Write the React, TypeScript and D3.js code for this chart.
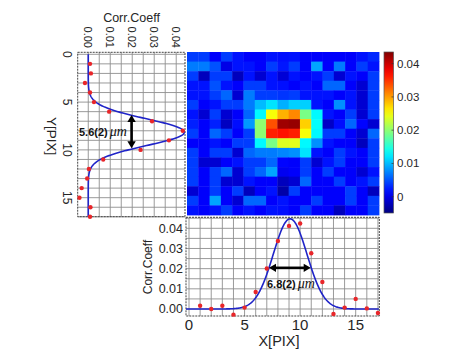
import React from 'react';
import * as d3 from 'd3';

const W = 474;
const H = 355;

// ---- bottom profile (X direction) ----
const xPixels = [1, 2, 3, 4, 5, 6, 7, 8, 9, 10, 11, 12, 13, 14, 15, 16, 17];
const xCorr = [0.0016, 0.0, 0.0016, -0.0028, 0.0007, 0.0084, 0.0201, 0.0337, 0.0412, 0.0424, 0.0276, 0.0134, -0.0025, 0.0007, 0.005, 0.0003, -0.002];
const xFitAmp = 0.0447;
const xFitCenter = 9.1;
const xFitSigma = 1.52;

// ---- left profile (Y direction) ----
const yPixels = [1, 2, 3, 4, 5, 6, 7, 8, 9, 10, 11, 12, 13, 14, 15, 16, 17];
const yCorr = [0.0008, 0.0012, -0.0015, 0.0008, 0.0026, 0.0095, 0.029, 0.043, 0.0367, 0.0238, 0.0068, 0.0003, -0.0005, -0.003, -0.004, 0.001, 0.0008];
const yFitAmp = 0.0437;
const yFitCenter = 8.15;
const yFitSigma = 1.4;

// ---- annotations ----
const xWidthLabel = '6.8(2)';
const yWidthLabel = '5.6(2)';
const xArrowLevel = 0.0204;
const xArrowFrom = 7.2;
const xArrowTo = 10.95;
const yArrowLevel = 0.0197;
const yArrowFrom = 6.35;
const yArrowTo = 9.83;

// ---- ticks ----
const pixTicks = [0, 5, 10, 15];
const corrTicks = [0, 0.01, 0.02, 0.03, 0.04];
const colorbarTicks = [0.04, 0.03, 0.02, 0.01, 0];

// ---- heatmap (17 x 17), rows top -> bottom ----
const heat: number[][] = [
  [0.004, 0.004, 0.001, 0.004, 0.002, 0.001, 0.001, 0.002, 0.0018, 0.002, 0.001, 0.001, 0.001, 0.001, 0.001, 0.002, 0.003],
  [0.007, 0.007, 0.005, 0.0, 0.002, 0.002, 0.001, 0.004, 0.0022, 0.004, 0.001, 0.009, 0.001, 0.007, 0.001, 0.004, 0.002],
  [0.004, -0.002, 0.004, 0.004, -0.002, 0.002, -0.001, 0.002, -0.0008, 0.002, 0.001, 0.002, 0.004, -0.001, 0.002, 0.001, 0.004],
  [0.002, 0.002, 0.005, 0.002, 0.001, 0.004, 0.004, 0.002, 0.0018, 0.001, 0.002, 0.001, 0.006, 0.006, 0.001, -0.001, 0.004],
  [0.002, 0.002, 0.004, 0.006, -0.001, 0.007, 0.004, 0.004, 0.0036, 0.004, 0.002, 0.002, 0.002, 0.001, 0.002, -0.001, 0.004],
  [0.004, 0.001, 0.002, 0.004, 0.004, 0.007, 0.01, 0.012, 0.0095, 0.011, 0.011, 0.002, 0.001, 0.008, 0.002, -0.001, 0.004],
  [0.002, -0.001, 0.004, -0.001, 0.001, 0.006, 0.013, 0.025, 0.029, 0.031, 0.019, 0.013, 0.002, 0.001, 0.004, -0.001, 0.004],
  [0.0026, 0.001, 0.0026, -0.0018, 0.0017, 0.0084, 0.0201, 0.0337, 0.042, 0.0424, 0.0276, 0.0134, -0.0015, 0.0017, 0.006, 0.0013, -0.001],
  [0.004, 0.001, 0.006, 0.004, 0.001, 0.004, 0.02, 0.036, 0.0367, 0.036, 0.025, 0.013, 0.004, 0.004, 0.001, -0.001, 0.006],
  [0.001, 0.001, 0.002, 0.001, 0.004, 0.004, 0.013, 0.019, 0.0238, 0.024, 0.013, 0.008, 0.002, 0.001, 0.001, -0.002, 0.004],
  [0.004, 0.001, 0.004, 0.004, -0.001, 0.006, 0.007, 0.007, 0.0075, 0.008, 0.012, 0.002, 0.001, 0.004, 0.002, 0.001, 0.004],
  [0.004, -0.001, -0.001, 0.001, 0.002, 0.004, 0.004, 0.006, 0.0013, 0.001, 0.004, -0.001, 0.002, 0.004, 0.001, 0.001, 0.004],
  [0.004, 0.001, 0.004, 0.006, -0.001, 0.004, 0.006, 0.009, 0.0005, 0.001, 0.004, 0.001, 0.004, 0.001, 0.001, -0.001, 0.002],
  [0.004, 0.001, 0.004, -0.001, -0.001, 0.002, 0.001, 0.001, -0.002, -0.001, 0.006, 0.001, 0.001, 0.004, 0.001, 0.002, 0.004],
  [-0.001, 0.001, 0.004, 0.001, 0.004, -0.002, 0.001, 0.002, -0.003, 0.004, 0.001, 0.001, 0.001, 0.001, 0.004, 0.001, -0.002],
  [0.004, 0.001, 0.009, 0.001, -0.001, 0.006, 0.006, 0.001, 0.002, 0.001, 0.001, 0.004, 0.001, 0.001, 0.004, 0.001, 0.004],
  [0.002, 0.001, 0.002, 0.004, 0.001, 0.002, 0.001, 0.002, 0.0018, 0.001, 0.004, 0.001, 0.001, -0.002, 0.001, 0.001, 0.004],
];

const cMin = -0.0049;
const cMax = 0.0435;

const FONT = '"Liberation Sans", Arial, sans-serif';
const SERIF = '"Liberation Serif", "Times New Roman", serif';
const TXT = '#262626';
const GRID = '#8e8e8e';

const jetColors = ['#000080', '#0000ff', '#00ffff', '#ffff00', '#ff0000', '#800000'];
const jetStops = [0, 0.125, 0.375, 0.625, 0.875, 1];
const color = d3
  .scaleLinear<string>()
  .domain(jetStops.map((t) => cMin + t * (cMax - cMin)))
  .range(jetColors)
  .clamp(true);

const gauss = (x: number, a: number, c: number, s: number) => a * Math.exp(-((x - c) * (x - c)) / (2 * s * s));

function Arrow({ x1, y1, x2, y2 }: { x1: number; y1: number; x2: number; y2: number }) {
  const ang = Math.atan2(y2 - y1, x2 - x1);
  const L = 7;
  const w = 4.2;
  const head = (px: number, py: number, a: number) => {
    const bx = px - L * Math.cos(a);
    const by = py - L * Math.sin(a);
    const nx = -Math.sin(a);
    const ny = Math.cos(a);
    return `${px},${py} ${bx + nx * w},${by + ny * w} ${bx - nx * w},${by - ny * w}`;
  };
  return (
    <g>
      <line
        x1={x1 + 5 * Math.cos(ang)}
        y1={y1 + 5 * Math.sin(ang)}
        x2={x2 - 5 * Math.cos(ang)}
        y2={y2 - 5 * Math.sin(ang)}
        stroke="#000"
        strokeWidth={2.6}
      />
      <polygon points={head(x2, y2, ang)} fill="#000" />
      <polygon points={head(x1, y1, ang + Math.PI)} fill="#000" />
    </g>
  );
}

export default function App() {
  // ---- left profile scales ----
  const lx = d3.scaleLinear().domain([-0.0048, 0.044]).range([77.7, 185]);
  const ly = d3.scaleLinear().domain([0, 17]).range([54.3, 216.8]);
  const lFrame = { x0: 77.7, x1: 185, y0: 52.3, y1: 216.7 };

  // ---- bottom profile scales ----
  const bx = d3.scaleLinear().domain([0, 15]).range([189, 355.7]);
  const by = d3.scaleLinear().domain([0, 0.04]).range([309, 228.3]);
  const bFrame = { x0: 186, x1: 379.3, y0: 217.3, y1: 316 };

  // ---- heatmap scales ----
  const hx = d3.scaleLinear().domain([0, 17]).range([187, 379]);
  const hy = d3.scaleLinear().domain([0, 17]).range([52, 215]);

  // ---- colorbar ----
  const cb = d3.scaleLinear().domain([cMin, cMax]).range([213, 52]);
  const cbX = 384;
  const cbW = 9.5;

  const fitRangeB = d3.range(bx.invert(bFrame.x0), bx.invert(bFrame.x1) + 0.001, 0.05);
  const bLine = d3
    .line<number>()
    .x((t) => bx(t))
    .y((t) => by(gauss(t, xFitAmp, xFitCenter, xFitSigma)));

  const fitRangeL = d3.range(0, 17.0001, 0.05);
  const lLine = d3
    .line<number>()
    .x((t) => lx(gauss(t, yFitAmp, yFitCenter, yFitSigma)))
    .y((t) => ly(t));

  const lVGrid = d3.range(0, 0.0441, 0.005);
  const lHGrid = d3.range(0, 17.5, 1);
  const bVGrid = d3.range(0, 17.5, 1);
  const bHGrid = d3.range(0, 0.0451, 0.005);

  const gradStops = d3.range(0, 1.0001, 0.05);

  return (
    <svg
      width={W}
      height={H}
      viewBox={`0 0 ${W} ${H}`}
      style={{ position: 'absolute', left: 0, top: 0, background: '#fff' }}
      fontFamily={FONT}
    >
      <defs>
        <linearGradient id="jet" x1="0" y1="1" x2="0" y2="0">
          {gradStops.map((t) => (
            <stop key={t} offset={t} stopColor={color(cMin + t * (cMax - cMin))} />
          ))}
        </linearGradient>
      </defs>
      <rect x={0} y={0} width={W} height={H} fill="#fff" />

      {/* ================= LEFT PROFILE ================= */}
      <g>
        {lVGrid.map((v) => (
          <line key={'lv' + v} x1={lx(v)} x2={lx(v)} y1={lFrame.y0} y2={lFrame.y1} stroke={GRID} strokeWidth={0.9} />
        ))}
        {lHGrid.map((v) => (
          <line key={'lh' + v} x1={lFrame.x0} x2={lFrame.x1} y1={ly(v)} y2={ly(v)} stroke={GRID} strokeWidth={0.9} />
        ))}
        <rect
          x={lFrame.x0}
          y={lFrame.y0}
          width={lFrame.x1 - lFrame.x0}
          height={lFrame.y1 - lFrame.y0}
          fill="none"
          stroke="#444"
          strokeWidth={1}
          strokeDasharray="2,1"
        />
        {corrTicks.map((v) => (
          <text
            key={'lt' + v}
            transform={`translate(${lx(v)},48) rotate(90)`}
            textAnchor="end"
            dy="0.35em"
            fontSize={11}
            fill={TXT}
          >
            {v.toFixed(2)}
          </text>
        ))}
        <text x={131.5} y={22} textAnchor="middle" fontSize={12.5} fill={TXT}>
          Corr.Coeff
        </text>
        {pixTicks.map((v) => (
          <text
            key={'ly' + v}
            transform={`translate(67,${ly(v)}) rotate(90)`}
            textAnchor="middle"
            dy="0.35em"
            fontSize={12}
            fill={TXT}
          >
            {v}
          </text>
        ))}
        <text transform="translate(52,136) rotate(90)" textAnchor="middle" dy="0.35em" fontSize={13.5} fill={TXT}>
          Y[PIX]
        </text>
        <path d={lLine(fitRangeL) || ''} fill="none" stroke="#1f24c8" strokeWidth={1.6} />
        {yPixels.map((p, i) => (
          <circle key={'ld' + i} cx={lx(yCorr[i])} cy={ly(p)} r={2.2} fill="#e8262a" />
        ))}
        <Arrow x1={lx(yArrowLevel)} y1={ly(yArrowFrom)} x2={lx(yArrowLevel)} y2={ly(yArrowTo)} />
        <text x={79} y={135.5} fontSize={11} fill="#111">
          <tspan fontWeight="bold">{yWidthLabel}</tspan>
          <tspan dx={2} fontFamily={SERIF} fontStyle="italic" fontSize={14}>
            μm
          </tspan>
        </text>
      </g>

      {/* ================= HEATMAP ================= */}
      <g>
        {heat.map((row, r) =>
          row.map((v, c) => (
            <rect
              key={`h${r}-${c}`}
              x={hx(c)}
              y={hy(r)}
              width={hx(c + 1) - hx(c) + 0.4}
              height={hy(r + 1) - hy(r) + 0.4}
              fill={color(v)}
            />
          ))
        )}
      </g>

      {/* ================= COLORBAR ================= */}
      <g>
        <rect x={cbX} y={cb(cMax)} width={cbW} height={cb(cMin) - cb(cMax)} fill="url(#jet)" stroke="#555" strokeWidth={0.7} />
        {colorbarTicks.map((v) => (
          <g key={'cb' + v}>
            <line x1={cbX + cbW - 2} x2={cbX + cbW} y1={cb(v)} y2={cb(v)} stroke="#333" strokeWidth={0.7} />
            <text x={397} y={cb(v)} dy="0.35em" fontSize={11.5} fill={TXT}>
              {v === 0 ? '0' : v.toFixed(2)}
            </text>
          </g>
        ))}
      </g>

      {/* ================= BOTTOM PROFILE ================= */}
      <g>
        {bVGrid.map((v) => (
          <line key={'bv' + v} x1={bx(v)} x2={bx(v)} y1={bFrame.y0} y2={bFrame.y1} stroke={GRID} strokeWidth={0.9} />
        ))}
        {bHGrid.map((v) => (
          <line key={'bh' + v} x1={bFrame.x0} x2={bFrame.x1} y1={by(v)} y2={by(v)} stroke={GRID} strokeWidth={0.9} />
        ))}
        <rect
          x={bFrame.x0}
          y={bFrame.y0}
          width={bFrame.x1 - bFrame.x0}
          height={bFrame.y1 - bFrame.y0}
          fill="none"
          stroke="#444"
          strokeWidth={1}
          strokeDasharray="2,1"
        />
        {corrTicks.map((v) => (
          <text key={'bt' + v} x={183} y={by(v)} dy="0.35em" textAnchor="end" fontSize={12.5} fill={TXT}>
            {v.toFixed(2)}
          </text>
        ))}
        <text transform="translate(148,267) rotate(-90)" textAnchor="middle" dy="0.35em" fontSize={12} fill={TXT}>
          Corr.Coeff
        </text>
        {pixTicks.map((v) => (
          <text key={'bx' + v} x={bx(v)} y={330} textAnchor="middle" fontSize={15} fill={TXT}>
            {v}
          </text>
        ))}
        <text x={279} y={345.5} textAnchor="middle" fontSize={14.5} fill={TXT}>
          X[PIX]
        </text>
        <path d={bLine(fitRangeB) || ''} fill="none" stroke="#1f24c8" strokeWidth={1.6} />
        {xPixels.map((p, i) => (
          <circle key={'bd' + i} cx={bx(p)} cy={by(xCorr[i])} r={2.2} fill="#e8262a" />
        ))}
        <Arrow x1={bx(xArrowFrom)} y1={by(xArrowLevel)} x2={bx(xArrowTo)} y2={by(xArrowLevel)} />
        <text x={267} y={287.5} fontSize={11} fill="#111">
          <tspan fontWeight="bold">{xWidthLabel}</tspan>
          <tspan dx={2} fontFamily={SERIF} fontStyle="italic" fontSize={14}>
            μm
          </tspan>
        </text>
      </g>
    </svg>
  );
}
